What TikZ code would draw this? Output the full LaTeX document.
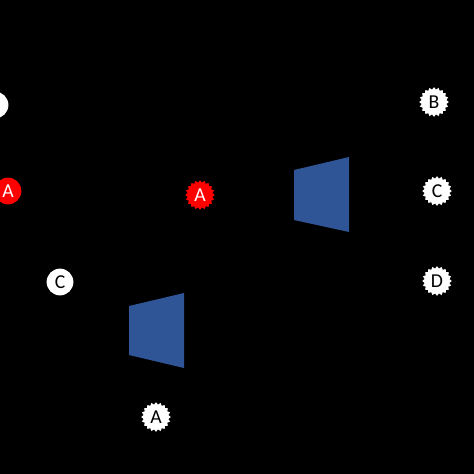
\documentclass[tikz,border=0pt]{standalone}
\usepackage{fontspec}
\setsansfont{Carlito}
\usetikzlibrary{shapes.symbols}
\definecolor{blockblue}{HTML}{2F5597}
\definecolor{tokred}{HTML}{FF0000}

\begin{document}
\begin{tikzpicture}[x=0.025cm, y=-0.025cm,
  token/.style={circle, fill=white, inner sep=0pt, minimum size=0.67cm,
    font=\sffamily\fontsize{14}{14}\selectfont},
  redtoken/.style={token, fill=tokred, text=white},
  gear/.style={starburst, starburst points=20, starburst point height=1.6pt,
    random starburst=0, fill=white, inner sep=0pt, minimum size=0.74cm,
    font=\sffamily\fontsize{14}{14}\selectfont},
  redgear/.style={gear, fill=tokred, text=white},
  block/.style={fill=blockblue, draw=none}]
  % background
  \fill[black] (0,0) rectangle (474,474);
  \useasboundingbox (0,0) rectangle (474,474);

  % left column
  \node[token] (cut) at (-5,105) {};
  \node[redtoken] (ina) at (8,191) {A};
  \node[token] (inc) at (60,282) {C};

  % middle
  \node[redgear] (ga) at (200,195) {A};
  \node[gear] (gb) at (156,417) {A};

  % right column
  \node[gear] (ob) at (434,102) {B};
  \node[gear] (oc) at (437,191) {C};
  \node[gear] (od) at (437,281) {D};

  % trapezoids
  \fill[block] (294,170) -- (349,157) -- (349,232) -- (294,220) -- cycle;
  \fill[block] (129,306) -- (184,293) -- (184,368) -- (129,355) -- cycle;
\end{tikzpicture}
\end{document}
